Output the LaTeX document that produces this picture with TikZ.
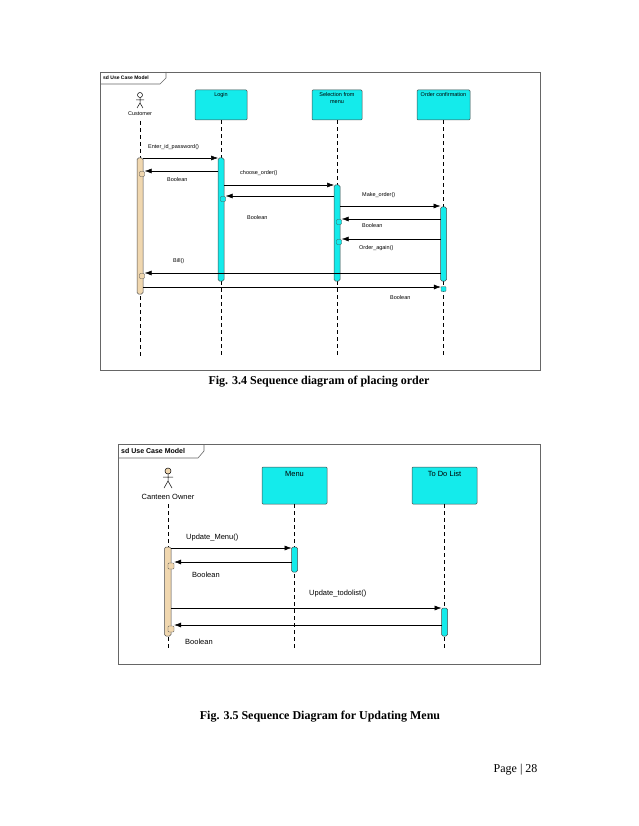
\documentclass[tikz,border=0pt]{standalone}
\usepackage{fontspec}
\setmainfont{Liberation Sans}
\newfontfamily\capfont{Liberation Serif}
\usetikzlibrary{arrows.meta}
\definecolor{cy}{RGB}{20,235,235}
\definecolor{tan}{RGB}{240,215,175}
\begin{document}
\begin{tikzpicture}[x=1pt,y=-1pt,
  frame/.style={draw=black!60,line width=0.6pt},
  obj/.style={draw=black!70,fill=cy,rounded corners=1pt,line width=0.5pt},
  life/.style={dash pattern=on 4pt off 3pt,line width=0.5pt},
  actA/.style={draw=black!70,fill=cy,rounded corners=1.5pt,line width=0.5pt},
  actT/.style={draw=black!70,fill=tan,rounded corners=1.5pt,line width=0.5pt},
  msg/.style={-{Latex[length=7pt,width=5pt]},line width=0.5pt},
  sq/.style={draw=black!70,rounded corners=0.8pt,line width=0.4pt,minimum size=5pt,inner sep=0pt},
  lab/.style={font=\fontsize{5.5}{6.5}\selectfont,inner sep=0pt},
  labb/.style={font=\fontsize{7.5}{8.5}\selectfont,inner sep=0pt},
  figcap/.style={font=\capfont\bfseries\fontsize{12}{14}\selectfont}]
\useasboundingbox (0,0) rectangle (638,826);
% ===== Figure 1 =====
\draw[frame] (100,72) rectangle (540,370);
\draw[frame] (100,84) -- (160,84) -- (166,78) -- (166,72);
\node[lab,font=\bfseries\fontsize{5}{6}\selectfont,anchor=west] (t1) at (103,78) {sd Use Case Model};
\draw[line width=0.5pt] (140,95) circle (2.5) (140,97.5) -- (140,103) (136,100) -- (144,100) (140,103) -- (137,108) (140,103) -- (143,108);
\node[lab] (cust) at (140,114) {Customer};
\node[obj,minimum width=52pt,minimum height=30pt] (login) at (221,105) {};
\node[lab,anchor=north] at (login.north) [yshift=-3pt] {Login};
\node[obj,minimum width=50pt,minimum height=30pt] (sel) at (337,105) {};
\node[lab,anchor=north,align=center] at (sel.north) [yshift=-3pt] {Selection from\\menu};
\node[obj,minimum width=53pt,minimum height=30pt] (ord) at (443.5,105) {};
\node[lab,anchor=north] at (ord.north) [yshift=-3pt] {Order confirmation};
\draw[life] (140,121) -- (140,358);
\draw[life] (login.south) -- (221,358);
\draw[life] (sel.south) -- (337,358);
\draw[life] (ord.south) -- (443.5,358);
\draw[actT] (137,158) rectangle (143,294);
\draw[actA] (218,158) rectangle (224,281);
\draw[actA] (334,185) rectangle (340,281);
\draw[actA] (440.5,207) rectangle (446.5,281);
\node[sq,fill=tan] (s1) at (142,174) {};
\node[sq,fill=cy] (s2) at (223,199) {};
\node[sq,fill=cy] (s3) at (339,222) {};
\node[sq,fill=cy] (s4) at (339,242) {};
\node[sq,fill=tan] (s5) at (142,276) {};
\node[sq,fill=cy] (s6) at (443.5,289) {};
\draw[msg] (143,158) -- (218,158);
\node[lab,anchor=west] at (148,147) {Enter\_id\_password()};
\draw[msg] (218,171) -- (s1.east |- 0,171);
\node[lab,anchor=west] at (167,180) {Boolean};
\draw[msg] (224,185) -- (334,185);
\node[lab,anchor=west] at (240,173) {choose\_order()};
\draw[msg] (334,196) -- (s2.east |- 0,196);
\node[lab,anchor=west] at (247,218) {Boolean};
\draw[msg] (340,206) -- (440.5,206);
\node[lab,anchor=west] at (362,195) {Make\_order()};
\draw[msg] (440.5,219) -- (s3.east |- 0,219);
\node[lab,anchor=west] at (362,226) {Boolean};
\draw[msg] (440.5,239) -- (s4.east |- 0,239);
\node[lab,anchor=west] at (359,248) {Order\_again()};
\draw[msg] (440.5,273) -- (s5.east |- 0,273);
\node[lab,anchor=west] at (173,261) {Bill()};
\draw[msg] (143,287) -- (s6.west |- 0,287);
\node[lab,anchor=west] at (390,298) {Boolean};
\node[figcap] (cap1) at (319,382) {Fig. 3.4 Sequence diagram of placing order};
% ===== Figure 2 =====
\draw[frame] (118,444) rectangle (540,664);
\draw[frame] (118,458) -- (198,458) -- (204,451) -- (204,444);
\node[labb,font=\bfseries\fontsize{7}{8}\selectfont,anchor=west] (t2) at (121,451) {sd Use Case Model};
\draw[line width=0.5pt,fill=tan] (168,471) circle (3);
\draw[line width=0.5pt] (168,474) -- (168,481) (163,477) -- (173,477) (168,481) -- (164,488) (168,481) -- (172,488);
\node[labb] (own) at (168,497) {Canteen Owner};
\node[obj,minimum width=65pt,minimum height=37pt] (menu) at (294.5,485.5) {};
\node[labb,anchor=north] at (menu.north) [yshift=-4pt] {Menu};
\node[obj,minimum width=65pt,minimum height=37pt] (todo) at (444.5,485.5) {};
\node[labb,anchor=north] at (todo.north) [yshift=-4pt] {To Do List};
\draw[life] (168,504) -- (168,648);
\draw[life] (menu.south) -- (294.5,648);
\draw[life] (todo.south) -- (444.5,648);
\draw[actT] (164.5,547) rectangle (171,636);
\draw[actA] (291.5,547) rectangle (297.5,572);
\draw[actA] (441.5,608) rectangle (447.5,636);
\node[sq,fill=tan,minimum size=6pt] (q1) at (171,566) {};
\node[sq,fill=tan,minimum size=6pt] (q2) at (171,629) {};
\draw[msg] (171,548) -- (291.5,548);
\node[labb,anchor=west] at (186,538) {Update\_Menu()};
\draw[msg] (291.5,562) -- (q1.east |- 0,562);
\node[labb,anchor=west] at (192,575) {Boolean};
\draw[msg] (171,608) -- (441.5,608);
\node[labb,anchor=west] at (309,594) {Update\_todolist()};
\draw[msg] (441.5,625) -- (q2.east |- 0,625);
\node[labb,anchor=west] at (185,642) {Boolean};
\node[figcap] (cap2) at (320,717) {Fig. 3.5 Sequence Diagram for Updating Menu};
\node[font=\capfont\fontsize{12}{14}\selectfont,anchor=east] (pg) at (541,770) {Page | 28};
\end{tikzpicture}
\end{document}
